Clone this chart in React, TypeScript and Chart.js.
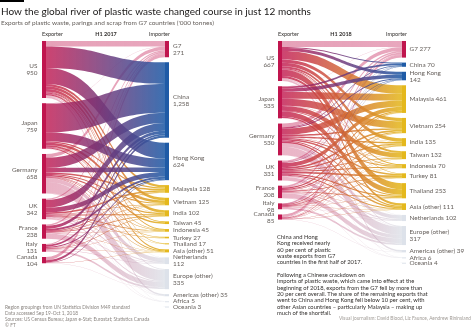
import React, { useEffect, useRef } from "react";
import { Chart, registerables } from "chart.js";

Chart.register(...registerables);

// ---------- data ----------
const EXPORTERS = ["US", "Japan", "Germany", "UK", "France", "Italy", "Canada"];
const IMPORTERS = [
  "G7", "China", "Hong Kong", "Malaysia", "Vietnam", "India", "Taiwan", "Indonesia",
  "Turkey", "Thailand", "Asia (other)", "Netherlands", "Europe (other)",
  "Americas (other)", "Africa", "Oceania",
];
const IMPORTER_KIND = [
  "g7", "china", "china", "asia", "asia", "asia", "asia", "asia",
  "asia", "asia", "asia", "other", "other", "other", "other", "other",
];

const EXPORT_2017 = [950, 759, 658, 342, 238, 131, 104];
const IMPORT_2017 = [271, 1258, 624, 128, 125, 102, 45, 45, 27, 17, 51, 112, 335, 35, 5, 3];
// rows: exporters, columns: importers ('000 tonnes), estimated from ribbon widths
const FLOWS_2017 = [
  [90, 361, 265, 40, 46, 43, 15, 15, 2, 6, 20, 6, 12, 26, 2, 1],
  [5, 480, 150, 20, 40, 5, 27, 5, 0, 8, 13, 1, 2, 2, 0, 1],
  [60, 172, 75, 27, 18, 20, 1, 5, 10, 1, 6, 71, 185, 5, 2, 0],
  [20, 130, 79, 25, 10, 16, 1, 10, 10, 1, 5, 15, 18, 0, 1, 1],
  [25, 50, 30, 10, 5, 10, 0, 7, 2, 1, 3, 10, 85, 0, 0, 0],
  [16, 30, 20, 4, 4, 8, 0, 3, 3, 0, 3, 9, 31, 0, 0, 0],
  [55, 35, 5, 2, 2, 0, 1, 0, 0, 0, 1, 0, 1, 2, 0, 0],
];
const IMPORT_WRAP_2017 = [true, true, true, false, false, false, false, false, false, false, false, true, true, false, false, false];

const EXPORT_2018 = [667, 535, 530, 331, 208, 98, 85];
const IMPORT_2018 = [277, 70, 142, 461, 254, 135, 132, 70, 81, 253, 111, 102, 317, 39, 6, 4];
const FLOWS_2018 = [
  [100, 15, 50, 143, 55, 60, 30, 20, 7, 102, 41, 3, 10, 27, 2, 2],
  [5, 30, 60, 112, 118, 5, 80, 10, 0, 90, 20, 1, 2, 1, 0, 1],
  [60, 10, 15, 101, 25, 25, 5, 15, 25, 20, 21, 64, 139, 3, 1, 1],
  [25, 5, 10, 70, 30, 20, 10, 15, 31, 20, 15, 20, 55, 3, 2, 0],
  [30, 3, 3, 20, 15, 10, 2, 5, 10, 10, 8, 10, 80, 1, 1, 0],
  [12, 2, 2, 10, 6, 10, 1, 3, 8, 6, 4, 4, 30, 0, 0, 0],
  [45, 5, 2, 5, 5, 5, 4, 2, 0, 5, 2, 0, 1, 4, 0, 0],
];
const IMPORT_WRAP_2018 = [false, false, true, false, false, false, false, false, false, false, false, false, true, false, false, false];

const PERIODS = ["H1 2017", "H1 2018"];
const TITLE = "How the global river of plastic waste changed course in just 12 months";
const SUBTITLE = "Exports of plastic waste, parings and scrap from G7 countries ('000 tonnes)";
const NOTE_1 = [
  "China and Hong",
  "Kong received nearly",
  "60 per cent of plastic",
  "waste exports from G7",
  "countries in the first half of 2017.",
];
const NOTE_2 = [
  "Following a Chinese crackdown on",
  "imports of plastic waste, which came into effect at the",
  "beginning of 2018, exports from the G7 fell by more than",
  "20 per cent overall. The share of the remaining exports that",
  "went to China and Hong Kong fell below 10 per cent, with",
  "other Asian countries \u2013 particularly Malaysia \u2013 making up",
  "much of the shortfall.",
];
const SOURCES = [
  "Region groupings from UN Statistics Division M49 standard",
  "Data accessed Sep 19-Oct 1, 2018",
  "Sources: US Census Bureau; Japan e-Stat; Eurostat; Statistics Canada",
  "\u00a9 FT",
];
const CREDIT = "Visual journalism: David Blood, Liz Faunce, Aendrew Rininsland";

// ---------- layout / style ----------
const W = 474;
const H = 331;
const Y_MIN = -683;
const Y_MAX = 4833;
const EXP_GAP = 87;
const IMP_GAP = 83;
const NODE_W = 4;
const PANEL_X = [
  { exp: 42, imp: 165, title: 106, expLabel: 37.5, impLabel: 173 },
  { exp: 278, imp: 402, title: 341, expLabel: 274.5, impLabel: 409.5 },
];
const FONT = "Lato, 'Noto Sans', sans-serif";
const CRIMSON = [192, 21, 78];
const NODE_COLOR: Record<string, string> = {
  exp: "#c0154e",
  g7: "#c0154e",
  china: "#1f5ba6",
  asia: "#e4b81d",
  other: "#dde2ea",
};
const LINK_END: Record<string, number[]> = {
  g7: [205, 60, 110],
  china: [31, 91, 166],
  asia: [228, 184, 29],
  other: [200, 207, 218],
};
const LINK_ALPHA: Record<string, number[]> = {
  g7: [0.4, 0.45],
  china: [0.8, 0.87],
  asia: [0.8, 0.87],
  other: [0.32, 0.5],
};

const PANELS = [
  { exp: EXPORT_2017, imp: IMPORT_2017, flows: FLOWS_2017, wrap: IMPORT_WRAP_2017 },
  { exp: EXPORT_2018, imp: IMPORT_2018, flows: FLOWS_2018, wrap: IMPORT_WRAP_2018 },
];

const fmt = (n: number) => n.toLocaleString("en-US");
const rgba = (c: number[], a: number) => `rgba(${c[0]},${c[1]},${c[2]},${a})`;

const sankeyPlugin = {
  id: "sankeyDraw",
  afterDatasetsDraw(chart: any) {
    const ctx: CanvasRenderingContext2D = chart.ctx;
    const xs = chart.scales.x;
    const ys = chart.scales.y;
    const px = (v: number) => xs.getPixelForValue(v);
    const py = (v: number) => ys.getPixelForValue(v);
    const hh = (v: number) => py(v) - py(0);

    ctx.save();
    // FT bar
    ctx.fillStyle = "#000";
    ctx.fillRect(0, 0, 24, 2);

    ctx.textBaseline = "alphabetic";
    ctx.textAlign = "left";
    ctx.fillStyle = "#1a1817";
    ctx.font = `10px ${FONT}`;
    ctx.fillText(TITLE, 1, 15);
    ctx.fillStyle = "#66605c";
    ctx.font = `6.5px ${FONT}`;
    ctx.fillText(SUBTITLE, 1, 25);

    PANELS.forEach((p, pi) => {
      const L = PANEL_X[pi];
      const expX0 = px(L.exp);
      const impX0 = px(L.imp);
      const expTop: number[] = [];
      const impTop: number[] = [];
      let pos = 0;
      p.exp.forEach((v, i) => {
        expTop[i] = pos;
        pos += v + EXP_GAP;
      });
      pos = 0;
      p.imp.forEach((v, i) => {
        impTop[i] = pos;
        pos += v + IMP_GAP;
      });

      const sOff = p.exp.map(() => 0);
      const tOff = p.imp.map(() => 0);
      const links: any[] = [];
      for (let s = 0; s < p.exp.length; s++) {
        for (let t = 0; t < p.imp.length; t++) {
          const v = p.flows[s][t];
          if (!v) continue;
          links.push({ s, t, v, sy: expTop[s] + sOff[s], ty: impTop[t] + tOff[t] });
          sOff[s] += v;
          tOff[t] += v;
        }
      }
      const order = (k: string) => (k === "other" ? 0 : k === "g7" ? 1 : 2);
      links.sort((a, b) => order(IMPORTER_KIND[a.t]) - order(IMPORTER_KIND[b.t]));

      const x0 = expX0 + NODE_W;
      const x1 = impX0;
      const xm = (x0 + x1) / 2;
      links.forEach((l) => {
        const kind = IMPORTER_KIND[l.t];
        const a = LINK_ALPHA[kind];
        const g = ctx.createLinearGradient(x0, 0, x1, 0);
        g.addColorStop(0, rgba(CRIMSON, a[0]));
        g.addColorStop(1, rgba(LINK_END[kind], a[1]));
        const sy = py(l.sy);
        const ty = py(l.ty);
        const w = hh(l.v);
        ctx.beginPath();
        ctx.moveTo(x0, sy);
        ctx.bezierCurveTo(xm, sy, xm, ty, x1, ty);
        ctx.lineTo(x1, ty + w);
        ctx.bezierCurveTo(xm, ty + w, xm, sy + w, x0, sy + w);
        ctx.closePath();
        ctx.fillStyle = g;
        ctx.fill();
      });

      // nodes
      p.exp.forEach((v, i) => {
        ctx.fillStyle = NODE_COLOR.exp;
        ctx.fillRect(expX0, py(expTop[i]), NODE_W, Math.max(1, hh(v)));
      });
      p.imp.forEach((v, i) => {
        ctx.fillStyle = NODE_COLOR[IMPORTER_KIND[i]];
        ctx.fillRect(impX0, py(impTop[i]), NODE_W, Math.max(1, hh(v)));
      });

      // headers
      ctx.fillStyle = "#33302e";
      ctx.textBaseline = "middle";
      ctx.font = `5.5px ${FONT}`;
      ctx.textAlign = "left";
      ctx.fillText("Exporter", expX0, 34.5);
      ctx.textAlign = "right";
      ctx.fillText("Importer", impX0 + NODE_W + 1, 34.5);
      ctx.textAlign = "center";
      ctx.font = `bold 5.5px ${FONT}`;
      ctx.fillText(PERIODS[pi], px(L.title), 34.5);

      // labels
      ctx.font = `6.4px ${FONT}`;
      ctx.fillStyle = "#66605c";
      ctx.textAlign = "right";
      p.exp.forEach((v, i) => {
        const c = py(expTop[i] + v / 2);
        ctx.fillText(EXPORTERS[i], px(L.expLabel), c - 3.5);
        ctx.fillText(fmt(v), px(L.expLabel), c + 3.5);
      });
      ctx.textAlign = "left";
      p.imp.forEach((v, i) => {
        const c = py(impTop[i] + v / 2);
        if (p.wrap[i]) {
          ctx.fillText(IMPORTERS[i], px(L.impLabel), c - 3.5);
          ctx.fillText(fmt(v), px(L.impLabel), c + 3.5);
        } else {
          ctx.fillText(`${IMPORTERS[i]} ${fmt(v)}`, px(L.impLabel), c);
        }
      });
    });

    // notes
    ctx.textAlign = "left";
    ctx.textBaseline = "middle";
    ctx.fillStyle = "#33302e";
    ctx.font = `5.8px ${FONT}`;
    NOTE_1.forEach((s, i) => ctx.fillText(s, 277, 237 + i * 6.4));
    NOTE_2.forEach((s, i) => ctx.fillText(s, 277, 275 + i * 6.4));
    ctx.fillStyle = "#8a8580";
    ctx.font = `4.8px ${FONT}`;
    SOURCES.forEach((s, i) => ctx.fillText(s, 5, 307.5 + i * 6));
    ctx.textAlign = "right";
    ctx.fillStyle = "#a09b96";
    ctx.fillText(CREDIT, 471, 318);
    ctx.restore();
  },
};

export default function App() {
  const ref = useRef<HTMLCanvasElement | null>(null);
  useEffect(() => {
    if (!ref.current) return;
    const chart = new Chart(ref.current, {
      type: "scatter",
      data: { datasets: [{ data: [], pointRadius: 0 }] },
      options: {
        animation: false,
        responsive: false,
        devicePixelRatio: 1,
        layout: { padding: 0 },
        scales: {
          x: { type: "linear", min: 0, max: W, display: false },
          y: { type: "linear", min: Y_MIN, max: Y_MAX, reverse: true, display: false },
        },
        plugins: { legend: { display: false }, tooltip: { enabled: false } },
      },
      plugins: [sankeyPlugin],
    });
    return () => chart.destroy();
  }, []);
  return (
    <div style={{ position: "fixed", left: 0, top: 0, width: W, height: H, background: "#fff" }}>
      <canvas ref={ref} width={W} height={H} style={{ display: "block", width: W, height: H }} />
    </div>
  );
}
